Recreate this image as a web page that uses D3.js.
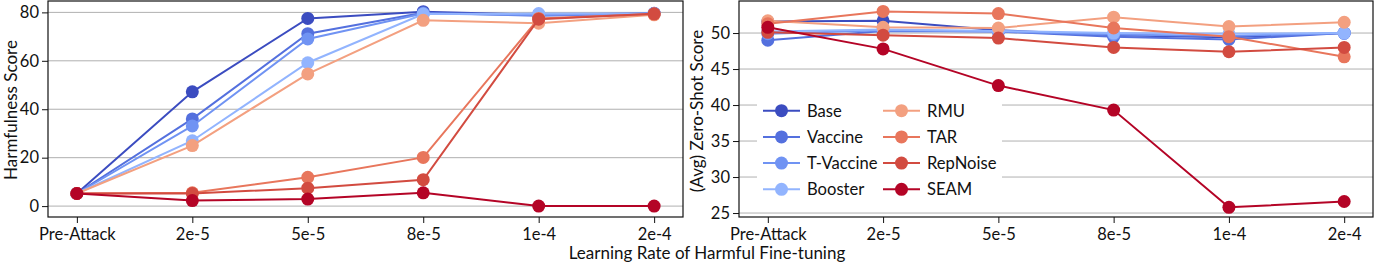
<!DOCTYPE html>
<html>
<head>
<meta charset="utf-8">
<script src="https://cdn.jsdelivr.net/npm/d3@7"></script>
<style>
  html, body { margin: 0; padding: 0; background: #fff; }
  svg { display: block; }
  text { font-family: Lato, "Noto Sans", sans-serif; fill: #111; }
</style>
</head>
<body>
<svg id="chart" width="1375" height="266"></svg>
<script>
// ---- Data ----
const categories = ["Pre-Attack", "2e-5", "5e-5", "8e-5", "1e-4", "2e-4"];
const seriesNames = ["Base", "Vaccine", "T-Vaccine", "Booster", "RMU", "TAR", "RepNoise", "SEAM"];
const seriesColors = ["#3b4cc0", "#5470de", "#7093f3", "#92b4fe", "#f3a080", "#e8765c", "#d24b40", "#b40426"];

// Harmfulness Score (left panel)
const harmBase      = [5.2, 47.2, 77.5, 80.3, 79.0, 79.6];
const harmVaccine   = [5.2, 36.0, 71.2, 79.8, 78.6, 79.5];
const harmTVaccine  = [5.2, 33.1, 69.0, 79.5, 78.9, 79.4];
const harmBooster   = [5.2, 27.0, 59.2, 79.3, 79.5, 79.5];
const harmRMU       = [5.2, 25.0, 54.6, 76.7, 75.5, 79.0];
const harmTAR       = [5.2, 5.5, 11.9, 20.1, 77.5, 79.3];
const harmRepNoise  = [5.2, 5.2, 7.4, 10.9, 77.2, 79.4];
const harmSEAM      = [5.2, 2.3, 2.9, 5.5, 0.0, 0.0];

// (Avg) Zero-Shot Score (right panel)
const zsBase      = [51.6, 51.7, 50.4, 49.7, 49.4, 50.0];
const zsVaccine   = [49.0, 50.3, 50.2, 49.5, 49.1, 50.0];
const zsTVaccine  = [49.9, 50.4, 50.2, 49.8, 49.6, 50.0];
const zsBooster   = [50.2, 50.5, 50.3, 50.0, 49.9, 50.0];
const zsRMU       = [51.7, 50.8, 50.7, 52.2, 50.9, 51.5];
const zsTAR       = [51.3, 53.0, 52.7, 50.7, 49.5, 46.7];
const zsRepNoise  = [50.1, 49.7, 49.3, 48.0, 47.4, 48.0];
const zsSEAM      = [50.8, 47.8, 42.7, 39.3, 25.8, 26.6];

const harmTicks = [0, 20, 40, 60, 80];
const zsTicks = [25, 30, 35, 40, 45, 50];

const harmSeries = [harmBase, harmVaccine, harmTVaccine, harmBooster, harmRMU, harmTAR, harmRepNoise, harmSEAM];
const zsSeries = [zsBase, zsVaccine, zsTVaccine, zsBooster, zsRMU, zsTAR, zsRepNoise, zsSEAM];

const svg = d3.select("#chart");
const TICKFONT = 16.5;
const LABELFONT = 17;
const LEGENDFONT = 16.6;

function panel(cfg) {
  const { x0, x1, y0, y1, domain, ticks, series } = cfg;
  const x = d3.scalePoint().domain(categories).range([x0, x1]).padding(0.25);
  const y = d3.scaleLinear().domain(domain).range([y1, y0]);
  const g = svg.append("g");

  // grid
  g.append("g").selectAll("line").data(ticks).join("line")
    .attr("x1", x0).attr("x2", x1)
    .attr("y1", d => y(d)).attr("y2", d => y(d))
    .attr("stroke", "#b0b0b0").attr("stroke-width", 1);

  // series
  const line = d3.line().x((d, i) => x(categories[i])).y(d => y(d));
  series.forEach((vals, si) => {
    const sg = g.append("g");
    sg.append("path").datum(vals).attr("d", line)
      .attr("fill", "none").attr("stroke", seriesColors[si]).attr("stroke-width", 2);
    sg.selectAll("circle").data(vals).join("circle")
      .attr("cx", (d, i) => x(categories[i])).attr("cy", d => y(d))
      .attr("r", 6.5).attr("fill", seriesColors[si]);
  });

  // axes
  const ax = g.append("g").attr("transform", `translate(0,${y1})`)
    .call(d3.axisBottom(x).tickSize(6).tickPadding(5));
  const ay = g.append("g").attr("transform", `translate(${x0},0)`)
    .call(d3.axisLeft(y).tickValues(ticks).tickSize(6).tickPadding(3));
  [ax, ay].forEach(a => {
    a.select(".domain").remove();
    a.selectAll("text").style("font-size", TICKFONT + "px").attr("fill", "#111")
      .style("font-family", "Lato, 'Noto Sans', sans-serif");
    a.selectAll("line").attr("stroke", "#111");
  });

  // frame
  g.append("rect").attr("x", x0).attr("y", y0)
    .attr("width", x1 - x0).attr("height", y1 - y0)
    .attr("fill", "none").attr("stroke", "#111").attr("stroke-width", 1.2);
  return { x, y, g };
}

const left = panel({ x0: 48, x1: 683, y0: 1, y1: 217, domain: [-4.5, 84.7], ticks: harmTicks, series: harmSeries });
const right = panel({ x0: 739, x1: 1373, y0: 1, y1: 217, domain: [24.45, 54.45], ticks: zsTicks, series: zsSeries });

// y labels
svg.append("text").attr("transform", "translate(17,110) rotate(-90)")
  .attr("text-anchor", "middle").style("font-size", LABELFONT + "px").text("Harmfulness Score");
svg.append("text").attr("transform", "translate(703,111) rotate(-90)")
  .attr("text-anchor", "middle").style("font-size", LABELFONT + "px").text("(Avg) Zero-Shot Score");
// x label
svg.append("text").attr("x", 707).attr("y", 259)
  .attr("text-anchor", "middle").style("font-size", LABELFONT + "px").text("Learning Rate of Harmful Fine-tuning");

// legend
const lg = svg.append("g");
lg.append("rect").attr("x", 757).attr("y", 97).attr("width", 245).attr("height", 105)
  .attr("fill", "#fff");
seriesNames.forEach((name, i) => {
  const col = Math.floor(i / 4), row = i % 4;
  const lx = 763 + col * 120, ly = 110.7 + row * 26.2;
  lg.append("line").attr("x1", lx).attr("x2", lx + 37).attr("y1", ly).attr("y2", ly)
    .attr("stroke", seriesColors[i]).attr("stroke-width", 2);
  lg.append("circle").attr("cx", lx + 18.5).attr("cy", ly).attr("r", 6.5).attr("fill", seriesColors[i]);
  lg.append("text").attr("x", lx + 44).attr("y", ly).attr("dy", "0.36em")
    .style("font-size", LEGENDFONT + "px").text(name);
});
</script>
</body>
</html>
